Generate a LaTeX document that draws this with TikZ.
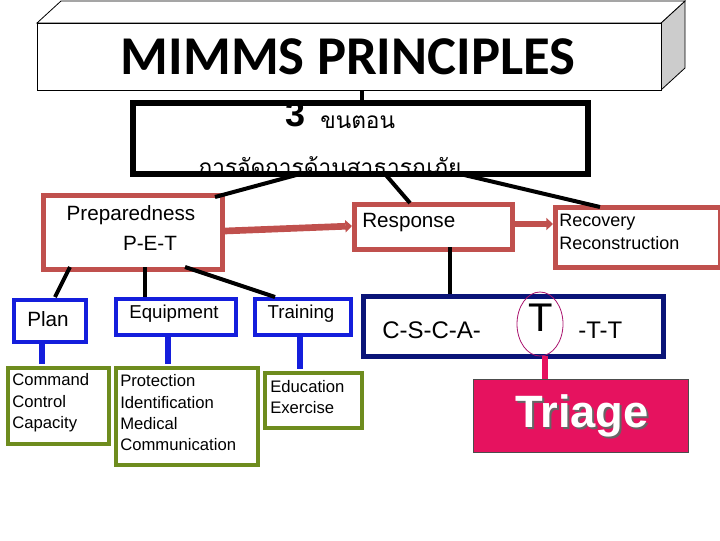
\documentclass[tikz,border=0pt]{standalone}
\usepackage{fontspec}
\usetikzlibrary{arrows.meta}
\setmainfont{Liberation Sans}
\newfontfamily\thaifont[Script=Thai]{Loma}
\newfontfamily\carl{Carlito}
\begin{document}
\begin{tikzpicture}[x=0.75pt,y=-0.75pt,
  bluebox/.style={draw={rgb,255:red,20;green,30;blue,220},line width=3pt},
  greenbox/.style={draw={rgb,255:red,110;green,140;blue,30},line width=3pt},
  blk/.style={line width=3pt},
  bl/.style={line width=4.5pt,draw={rgb,255:red,20;green,30;blue,220}},
  t/.style={inner sep=0pt,anchor=west}]
\definecolor{redb}{RGB}{192,80,77}
\definecolor{pinkb}{RGB}{230,18,95}
\definecolor{navy}{RGB}{10,20,120}
\tikzset{redbox/.style={draw=redb,line width=3.5pt,fill=white}}
\useasboundingbox (0,0) rectangle (720,540);
% title 3D box
\fill[gray!40,draw=black,line width=0.6pt] (661,23)--(685,1)--(685,68)--(661,90)--cycle;
\draw[fill=white,line width=0.6pt] (37,23)--(61,1)--(685,1)--(661,23)--cycle;
\node[draw,fill=white,line width=0.6pt,minimum width=624pt*0.75,minimum height=67pt*0.75,anchor=north west,inner sep=0pt] (title) at (37,23) {};
\node at (348,57) {\carl\bfseries\fontsize{41}{43}\selectfont MIMMS PRINCIPLES};
% phase box
\node[minimum width=454pt*0.75,minimum height=70pt*0.75,anchor=north west,inner sep=0pt] (phase) at (133,103) {};
\draw[blk] (362,90)--(362,103);
\node[t] (three) at (285,114) {\bfseries\fontsize{27}{28}\selectfont 3};
\node[t] at (320,122) {\thaifont\fontsize{17}{18}\selectfont ขนตอน};
\node (thai2) at (330,166) {\thaifont\fontsize{17}{18}\selectfont การจัดการด้านสาธารณภัย};
\draw[line width=4.5pt] (phase.north west) rectangle (phase.south east);
% level 2
\node[redbox,minimum width=179pt*0.75,minimum height=74pt*0.75,anchor=north west,inner sep=0pt] (prep) at (41,193) {};
\node at (131,215) {\fontsize{15.5}{17}\selectfont Preparedness};
\node at (150,243) {\fontsize{15.5}{17}\selectfont P-E-T};
\node[redbox,minimum width=158pt*0.75,minimum height=45pt*0.75,anchor=north west,inner sep=0pt] (resp) at (352,202) {};
\node[t] at (362,223) {\fontsize{15.5}{17}\selectfont Response};
\node[redbox,minimum width=165pt*0.75,minimum height=60pt*0.75,anchor=north west,inner sep=0pt] (reco) at (553,205) {};
\node[t,align=left,font=\fontsize{13.5}{17}\selectfont] at (559,232) {Recovery\\Reconstruction};
\draw[blk] (300,174)--(215,197);
\draw[blk] (385,174)--(410,203);
\draw[blk] (460,174)--(600,207);
\draw[redb,line width=5pt,-{Triangle[length=5pt,width=9pt]}] (prep.east|-0,231)--(resp.west|-0,226);
\draw[redb,line width=5pt,-{Triangle[length=5pt,width=9pt]}] (resp.east|-0,224)--(reco.west|-0,224);
% level 3
\node[bluebox,minimum width=72pt*0.75,minimum height=42pt*0.75,anchor=north west,inner sep=0pt] (plan) at (12,298) {};
\node at (48,319) {\fontsize{15.5}{17}\selectfont Plan};
\node[bluebox,minimum width=120pt*0.75,minimum height=36pt*0.75,anchor=north west,inner sep=0pt] (equip) at (114,297) {};
\node at (174,314) {\fontsize{14}{17}\selectfont Equipment};
\node[bluebox,minimum width=96pt*0.75,minimum height=36pt*0.75,anchor=north west,inner sep=0pt] (train) at (253,297) {};
\node at (301,314) {\fontsize{14}{17}\selectfont Training};
\draw[blk] (70,267)--(55,297);
\draw[blk] (145,267)--(145,297);
\draw[blk] (185,267)--(275,297);
\draw[blk] (450,247)--(450,294);
\node[draw=navy,line width=3.5pt,minimum width=300pt*0.75,minimum height=60pt*0.75,anchor=north west,inner sep=0pt] (csca) at (361,294) {};
\node[t] at (382,330) {\fontsize{18}{20}\selectfont C-S-C-A-};
\node (T) at (541,318) {\fontsize{30}{32}\selectfont T};
\node[t] at (578,330) {\fontsize{18}{20}\selectfont -T-T};
\draw[draw={rgb,255:red,170;green,20;blue,110},line width=0.6pt] (540,324) ellipse (23 and 32);
% level 4
\node[greenbox,minimum width=101pt*0.75,minimum height=76pt*0.75,anchor=north west,inner sep=0pt] (cmd) at (6,366) {};
\node[t,align=left,font=\fontsize{12.5}{16}\selectfont] at (12,403) {Command\\Control\\Capacity};
\node[greenbox,minimum width=142pt*0.75,minimum height=97pt*0.75,anchor=north west,inner sep=0pt] (prot) at (114,366) {};
\node[t,align=left,font=\fontsize{12.5}{16}\selectfont] at (120,413) {Protection\\Identification\\Medical\\Communication};
\node[greenbox,minimum width=97pt*0.75,minimum height=55pt*0.75,anchor=north west,inner sep=0pt] (edu) at (263,371) {};
\node[t,align=left,font=\fontsize{12.5}{16}\selectfont] at (270,397) {Education\\Exercise};
\draw[bl] (42,342)--(42,364);
\draw[bl] (168,335)--(168,364);
\draw[bl] (300,335)--(300,369);
\node[fill=pinkb,draw=black!70,line width=0.6pt,minimum width=215pt*0.75,minimum height=73pt*0.75,anchor=north west,inner sep=0pt] (tri) at (473,379) {};
\node[text=black!60] at (584,418) {\bfseries\fontsize{34}{36}\selectfont Triage};
\node[text=white] at (582,416) {\bfseries\fontsize{34}{36}\selectfont Triage};
\draw[pinkb,line width=4.5pt] (545,356)--(545,379);
\end{tikzpicture}
\end{document}
